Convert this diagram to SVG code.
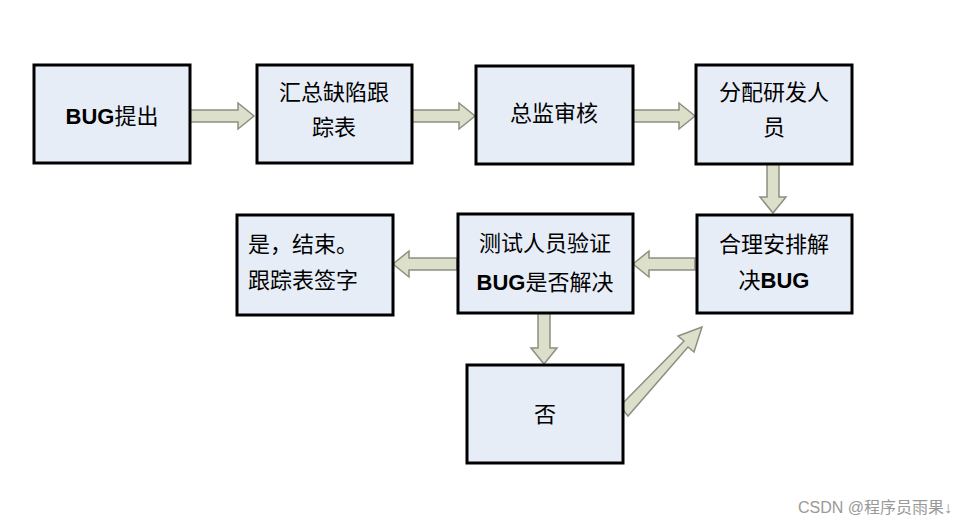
<svg xmlns="http://www.w3.org/2000/svg" width="965" height="525" viewBox="0 0 965 525">
<style>
.b{fill:#e7edf7;stroke:#000;stroke-width:3}
.a{fill:#dcdfca;stroke:#8c9080;stroke-width:1.5}
text{font-family:"Liberation Serif","Noto Sans CJK SC",serif;font-size:22px;fill:#000;text-anchor:middle}
.e{font-family:"Liberation Sans",sans-serif;font-weight:bold}
.w{font-family:"Liberation Sans","Noto Sans CJK SC",sans-serif;font-size:16px;fill:#999;text-anchor:end}
</style>
<rect width="965" height="525" fill="#fff"/>
<g id="connectors">
<polygon class="a" points="190,110 238,110 238,103 254,116 238,129 238,122 190,122"/>
<polygon class="a" points="412,110 459,110 459,103 475,116 459,129 459,122 412,122"/>
<polygon class="a" points="633,110 679,110 679,103 695,116 679,129 679,122 633,122"/>
<polygon class="a" points="767,164 767,197 760,197 773,213 786,197 779,197 779,164"/>
<polygon class="a" points="695,258 649,258 649,251 633,264 649,277 649,270 695,270"/>
<polygon class="a" points="457,258 409,258 409,251 393,264 409,277 409,270 457,270"/>
<polygon class="a" points="538,313 538,348 531,348 544,364 557,348 550,348 550,313"/>
<polygon class="a" points="620,406 628,416 688,347 694,352 702,327 678,336 684,341"/>
</g>
<g id="n1"><rect class="b" x="34" y="65" width="156" height="98"/><text x="112" y="124"><tspan class="e">BUG</tspan>提出</text></g>
<g id="n2"><rect class="b" x="257" y="65" width="155" height="98"/><text x="334" y="100">汇总缺陷跟</text><text x="334" y="135">踪表</text></g>
<g id="n3"><rect class="b" x="476" y="66" width="157" height="98"/><text x="554" y="121">总监审核</text></g>
<g id="n4"><rect class="b" x="696" y="65" width="156" height="99"/><text x="774" y="100">分配研发人</text><text x="774" y="135">员</text></g>
<g id="n5"><rect class="b" x="697" y="215" width="155" height="98"/><text x="774" y="252">合理安排解</text><text x="774" y="288">决<tspan class="e">BUG</tspan></text></g>
<g id="n6"><rect class="b" x="458" y="214" width="175" height="99"/><text x="545" y="251">测试人员验证</text><text x="545" y="290"><tspan class="e">BUG</tspan>是否解决</text></g>
<g id="n7"><rect class="b" x="237" y="215" width="156" height="100"/><text x="248" y="252" style="text-anchor:start">是，结束。</text><text x="248" y="288" style="text-anchor:start">跟踪表签字</text></g>
<g id="n8"><rect class="b" x="467" y="365" width="156" height="98"/><text x="545" y="422">否</text></g>
<text class="w" x="952" y="513">CSDN @程序员雨果↓</text>
</svg>
